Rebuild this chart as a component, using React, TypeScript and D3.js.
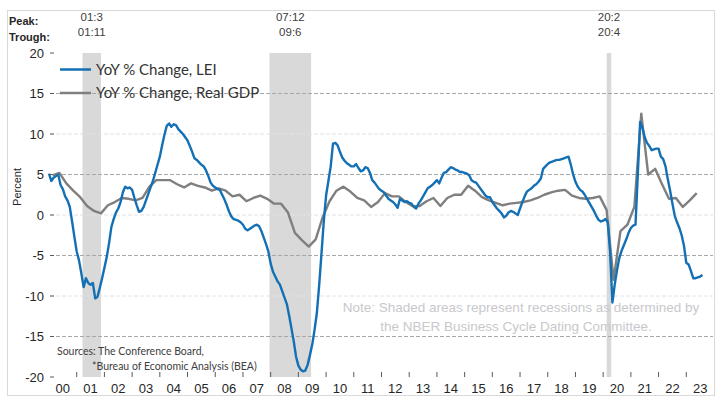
import React from "react";
import * as d3 from "d3";

// YoY % change of the LEI, monthly from Jan 2000
const leiValues: number[] = [
  5.1, 4.2, 4.6, 4.8, 5.0, 3.7, 3.2, 2.3, 1.8, 1.0, -0.8, -2.7,
  -4.5, -5.6, -7.2, -8.9, -7.8, -8.4, -8.6, -8.4, -10.3, -10.1, -9.0, -7.8,
  -6.5, -5.2, -3.5, -1.5, -0.5, 0.3, 0.8, 1.6, 2.8, 3.5, 3.3, 3.4,
  3.1, 2.1, 1.2, 0.4, 0.5, 1.0, 1.8, 2.6, 3.4, 4.2, 5.2, 6.2,
  7.2, 8.6, 9.9, 11.0, 11.3, 10.9, 11.2, 11.1, 10.6, 10.3, 10.0, 9.6,
  9.2, 8.5, 7.8, 7.0, 6.8, 6.5, 6.2, 6.0, 5.5, 4.8, 4.0, 3.6,
  3.4, 3.2, 3.1, 2.5, 1.9, 1.2, 0.4, -0.2, -0.5, -0.6, -0.7, -0.9,
  -1.2, -1.7, -1.9, -1.7, -1.5, -1.3, -1.2, -1.4, -2.0, -2.8, -3.6, -4.5,
  -6.0, -7.0, -7.6, -8.2, -8.6, -9.4, -10.2, -11.0, -12.4, -14.0, -15.6, -17.5,
  -18.6, -19.1, -19.3, -19.2, -18.5, -17.3, -16.0, -14.2, -12.1, -8.7, -4.8, -0.8,
  2.4, 4.2, 6.0, 8.8, 8.9, 8.6, 7.8, 7.1, 6.7, 6.4, 6.2, 6.0,
  6.0, 6.3, 5.8, 5.4, 5.5, 5.9, 5.8, 5.2, 4.3, 4.0, 3.6, 3.2,
  3.0, 2.8, 2.4, 2.0, 1.8, 1.6, 1.3, 0.9, 2.0, 1.8, 1.6, 1.7,
  1.5, 1.4, 1.0, 0.8, 1.4, 1.8, 2.3, 2.8, 3.3, 3.5, 3.7, 4.0,
  4.3, 3.9, 4.6, 5.2, 5.3, 5.6, 5.9, 5.8, 5.6, 5.5, 5.3, 5.3,
  5.2, 5.1, 4.9, 4.3, 4.1, 4.0, 3.6, 3.2, 2.8, 2.4, 2.2, 2.2,
  1.6, 1.2, 0.8, 0.5, 0.2, -0.3, -0.1, 0.3, 0.5, 0.4, 0.2, 0.0,
  0.8, 1.6, 2.3, 2.9, 3.1, 3.3, 3.6, 3.8, 4.1, 4.5, 5.7, 6.0,
  6.3, 6.5, 6.6, 6.7, 6.8, 6.8, 6.9, 7.0, 7.1, 7.2, 6.2, 5.0,
  4.1, 3.5, 3.1, 2.9, 2.5, 2.0, 1.5, 1.0, 0.5, -0.1, -0.6, -0.8,
  -0.7, -0.5, -0.9, -4.6, -10.8, -8.6, -6.8, -5.3, -4.4, -3.7, -3.0, -2.2,
  -1.6, -1.3, -1.2, 5.0, 11.5, 10.8, 9.6, 8.9, 8.5, 8.0, 8.1, 8.2,
  8.2, 7.2, 6.9, 6.0, 4.4, 3.0, 1.4, -0.1, -0.9, -1.6, -2.5, -3.8,
  -5.9, -6.1, -6.9, -7.8, -7.8, -7.7, -7.6, -7.4,
];

// YoY % change of real GDP, quarterly from 2000 Q1
const gdpValues: number[] = [
  4.9, 5.2, 3.9, 3.0,
  2.2, 1.1, 0.5, 0.2,
  1.2, 1.6, 2.1, 2.0,
  1.8, 2.1, 3.5, 4.3,
  4.3, 4.3, 3.8, 3.4,
  3.9, 3.6, 3.4, 3.0,
  3.3, 3.0, 2.3, 2.5,
  1.7, 2.1, 2.4, 2.0,
  1.4, 1.4, 0.3, -2.2,
  -3.1, -3.9, -3.0, -0.3,
  1.7, 3.0, 3.5, 2.9,
  2.1, 1.8, 1.0, 1.6,
  2.7, 2.3, 2.3, 1.6,
  1.1, 1.1, 1.7, 2.1,
  1.1, 2.1, 2.5, 2.5,
  3.6, 3.0, 2.2, 1.8,
  1.5, 1.2, 1.4, 1.5,
  1.6, 1.8, 2.1, 2.5,
  2.8, 3.0, 3.1, 2.4,
  2.1, 2.0, 2.1, 2.3,
  0.6, -8.0, -2.0, -1.2,
  1.0, 12.5, 5.0, 5.7,
  3.8, 2.0, 2.1, 1.0,
  1.8, 2.7,
];

const yearLabels = [
  "00", "01", "02", "03", "04", "05", "06", "07", "08", "09", "10", "11",
  "12", "13", "14", "15", "16", "17", "18", "19", "20", "21", "22", "23",
];
const yTicks = [-20, -15, -10, -5, 0, 5, 10, 15, 20];

// NBER peaks and troughs [year, month]
const recessionPeaks: [number, number][] = [[2001, 3], [2007, 12], [2020, 2]];
const recessionTroughs: [number, number][] = [[2001, 11], [2009, 6], [2020, 4]];

const BLUE = "#1470b4";
const GRAY = "#7f7f7f";
const axisFont = "'Liberation Sans', Arial, sans-serif";
const legendFont = "Lato, 'Open Sans', sans-serif";

const ym = (y: number, m: number) => y + (m - 0.5) / 12;
const lbl = (y: number, m: number) => `${String(y % 100).padStart(2, "0")}:${m}`;

export default function App() {
  const x = d3.scaleLinear().domain([2000, 2024]).range([49, 714]);
  const y = d3.scaleLinear().domain([-20, 20]).range([377, 53]);

  const lei = leiValues.map((v, i) => ({ t: 2000 + i / 12, v }));
  const gdp = gdpValues.map((v, i) => ({ t: 2000 + i / 4 + 0.125, v }));

  const line = d3
    .line<{ t: number; v: number }>()
    .x((d) => x(d.t))
    .y((d) => y(d.v));

  return (
    <div style={{ position: "absolute", left: 0, top: 0 }}>
      <svg width={724} height={405} style={{ display: "block", background: "#fff" }}>
        <rect x={7.5} y={10.5} width={707} height={385} fill="none" stroke="#d9d9d9" />

        {recessionPeaks.map((p, i) => {
          const t = recessionTroughs[i];
          const x0 = x(ym(p[0], p[1]));
          const x1 = x(ym(t[0], t[1]));
          const cx = (x0 + x1) / 2;
          return (
            <g key={i}>
              <rect x={x0} y={y(20)} width={Math.max(x1 - x0, 4)} height={y(-20) - y(20)} fill="#d9d9d9" />
              <text x={cx} y={21} textAnchor="middle" fontFamily={axisFont} fontSize={11.5} fill="#404040">
                {lbl(p[0], p[1])}
              </text>
              <text x={cx} y={36} textAnchor="middle" fontFamily={axisFont} fontSize={11.5} fill="#404040">
                {lbl(t[0], t[1])}
              </text>
            </g>
          );
        })}

        <text x={9} y={25} fontFamily={axisFont} fontSize={11} fontWeight="bold" fill="#262626">Peak:</text>
        <text x={9} y={41} fontFamily={axisFont} fontSize={11} fontWeight="bold" fill="#262626">Trough:</text>

        {yTicks.filter((v) => Math.abs(v) < 20).map((v) => (
          <line
            key={v}
            x1={50}
            x2={713}
            y1={y(v)}
            y2={y(v)}
            stroke={v % 10 === 0 ? "#e2e2e2" : "#a8a8a8"}
            strokeWidth={1}
            strokeDasharray="4,2"
          />
        ))}
        {yTicks.map((v) => (
          <g key={v}>
            <line x1={50} x2={54} y1={y(v)} y2={y(v)} stroke="#595959" />
            <text x={44} y={y(v) + 4.5} textAnchor="end" fontFamily={axisFont} fontSize={13} fill="#262626">
              {v}
            </text>
          </g>
        ))}

        {yearLabels.map((l, i) => (
          <g key={l}>
            {i > 0 && <line x1={x(2000 + i)} x2={x(2000 + i)} y1={372} y2={377} stroke="#595959" />}
            <text x={x(2000.5 + i)} y={393} textAnchor="middle" fontFamily={axisFont} fontSize={13} fill="#262626">
              {l}
            </text>
          </g>
        ))}

        <text
          transform="translate(21,187) rotate(-90)"
          textAnchor="middle"
          fontFamily={axisFont}
          fontSize={11}
          fill="#262626"
        >
          Percent
        </text>

        <g fontFamily={axisFont} fontSize={13.5} fill="#c8c8cc" textAnchor="middle">
          <text x={521} y={312}>Note: Shaded areas represent recessions as determined by</text>
          <text x={516} y={331}>the NBER Business Cycle Dating Committee.</text>
        </g>

        <g fontFamily={legendFont} fontSize={10.5} fill="#404040">
          <text x={57} y={355}>Sources: The Conference Board,</text>
          <text x={92} y={370}>*Bureau of Economic Analysis (BEA)</text>
        </g>

        <path d={line(gdp) || ""} fill="none" stroke={GRAY} strokeWidth={2.4} strokeLinejoin="round" />
        <path d={line(lei) || ""} fill="none" stroke={BLUE} strokeWidth={2.4} strokeLinejoin="round" />

        <g fontFamily={legendFont} fontSize={15} fill="#333">
          <line x1={60} x2={91} y1={69.5} y2={69.5} stroke={BLUE} strokeWidth={2.5} />
          <text x={96} y={74.5}>YoY % Change, LEI</text>
          <line x1={60} x2={91} y1={93} y2={93} stroke={GRAY} strokeWidth={2.5} />
          <text x={96} y={98}>YoY % Change, Real GDP</text>
        </g>
      </svg>
    </div>
  );
}
